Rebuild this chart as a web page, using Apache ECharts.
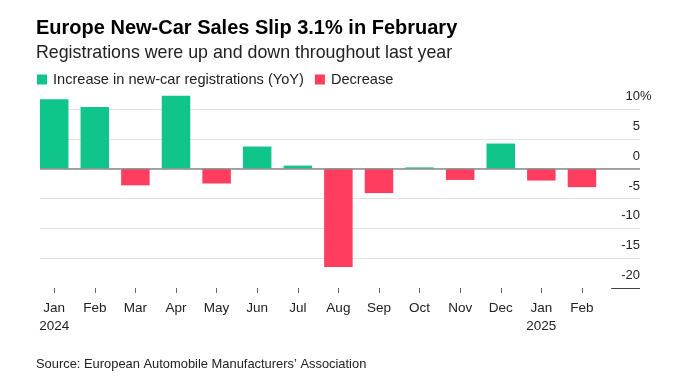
<!DOCTYPE html>
<html>
<head>
<meta charset="utf-8">
<script src="https://cdn.jsdelivr.net/npm/echarts@6/dist/echarts.min.js"></script>
<style>
html,body{margin:0;padding:0;background:#fff;}
#chart{width:677px;height:391px;}
</style>
</head>
<body>
<div id="chart"></div>
<script>
// Data
const months = ['Jan','Feb','Mar','Apr','May','Jun','Jul','Aug','Sep','Oct','Nov','Dec','Jan','Feb'];
const years = ['2024','','','','','','','','','','','','2025',''];
const yoyChange = [11.6, 10.3, -2.8, 12.2, -2.5, 3.7, 0.5, -16.5, -4.1, 0.2, -1.9, 4.2, -2.0, -3.1];
const yTicks = [-20, -15, -10, -5, 0, 5, 10];

const GREEN = '#10c58c';
const RED = '#ff3d5e';
const FONT = '"Liberation Sans", Arial, sans-serif';

const increaseData = yoyChange.map((v, i) => [i, v >= 0 ? v : '-']);
const decreaseData = yoyChange.map((v, i) => [i, v < 0 ? v : '-']);
const idx = months.map((m, i) => i);
const yMaxTick = yTicks[yTicks.length - 1];

const chart = echarts.init(document.getElementById('chart'), null, {renderer: 'canvas'});
chart.setOption({
  animation: false,
  backgroundColor: '#fff',
  textStyle: {fontFamily: FONT},
  title: [
    {text: 'Europe New-Car Sales Slip 3.1% in February', left: 31, top: 13,
     textStyle: {fontFamily: FONT, fontSize: 20, fontWeight: 'bold', color: '#000'}},
    {text: 'Registrations were up and down throughout last year', left: 31, top: 39,
     textStyle: {fontFamily: FONT, fontSize: 17.8, fontWeight: 'normal', color: '#222'}},
    {text: 'Source: European Automobile Manufacturers\u2019 Association', left: 31, top: 353,
     textStyle: {fontFamily: FONT, fontSize: 12.9, fontWeight: 'normal', color: '#222'}}
  ],
  legend: {
    left: 32, top: 67, icon: 'rect', itemWidth: 10, itemHeight: 10, itemGap: 11,
    textStyle: {fontFamily: FONT, fontSize: 14.6, color: '#222', padding: [0,0,0,1]},
    data: ['Increase in new-car registrations (YoY)', 'Decrease']
  },
  grid: {left: 40, right: 37, top: 91, bottom: 103, containLabel: false},
  xAxis: {
    type: 'value', min: -0.35, max: 14.43,
    axisLine: {show: false, onZero: false},
    splitLine: {show: false},
    axisTick: {show: true, length: 5, customValues: idx, lineStyle: {color: '#666', width: 1}},
    axisLabel: {
      customValues: idx, margin: 11,
      fontFamily: FONT, fontSize: 13.5, color: '#222', lineHeight: 18,
      formatter: v => { const i = Math.round(v); return years[i] ? months[i] + '\n' + years[i] : months[i]; }
    }
  },
  yAxis: [
    {
      type: 'value', position: 'right', min: -20, max: 13, interval: 5,
      axisLine: {show: false}, axisTick: {show: false},
      splitLine: {show: true, showMinLine: false, showMaxLine: false, lineStyle: {color: '#e3e3e3', width: 1}},
      axisLabel: {
        inside: true, margin: 0, showMaxLabel: false, align: 'right', verticalAlign: 'bottom',
        padding: [0, 0, 6, 0],
        fontFamily: FONT, fontSize: 13, color: '#222',
        formatter: v => String(v)
      }
    },
    {
      type: 'value', position: 'right', min: -20, max: 13, interval: 5,
      axisLine: {show: false}, axisTick: {show: false}, splitLine: {show: false},
      axisLabel: {
        inside: false, margin: 0, showMaxLabel: false, align: 'left', verticalAlign: 'bottom',
        padding: [0, 0, 6, 0],
        fontFamily: FONT, fontSize: 13, color: '#222',
        formatter: v => v === yMaxTick ? '%' : ''
      }
    }
  ],
  series: [
    {
      name: 'Increase in new-car registrations (YoY)', type: 'bar', barWidth: 28.5, barGap: '-100%',
      itemStyle: {color: GREEN}, data: increaseData,
      markLine: {
        silent: true, symbol: 'none', label: {show: false},
        lineStyle: {color: '#8a8a8a', width: 1.5, type: 'solid'},
        data: [{yAxis: 0}]
      }
    },
    {
      name: 'Decrease', type: 'bar', barWidth: 28.5, barGap: '-100%',
      itemStyle: {color: RED}, data: decreaseData,
      markLine: {
        silent: true, symbol: 'none', label: {show: false},
        lineStyle: {color: '#444', width: 1, type: 'solid'},
        data: [[{coord: [13.72, -20]}, {coord: [14.43, -20]}]]
      }
    }
  ]
});
</script>
</body>
</html>
